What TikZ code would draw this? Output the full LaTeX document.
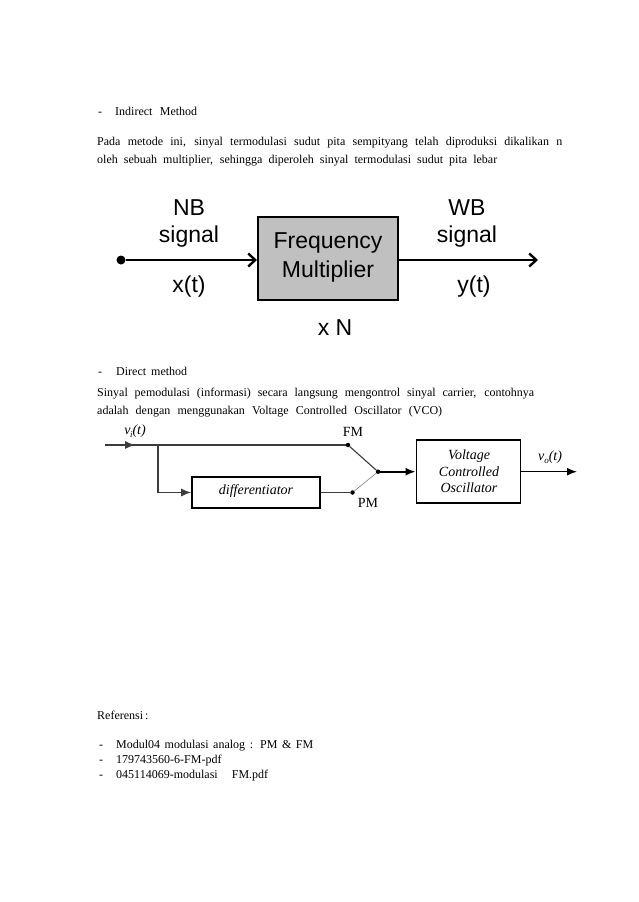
\documentclass[tikz,border=0pt]{standalone}
\usepackage{fontspec}
\setmainfont{Liberation Serif}
\newfontfamily\arialf{Liberation Sans}
\usetikzlibrary{arrows.meta}
\definecolor{boxgray}{RGB}{192,192,192}
\definecolor{wire}{RGB}{60,60,60}
\tikzset{
  body/.style={anchor=base west, inner sep=0pt, font=\fontsize{12}{14}\selectfont},
  bigsans/.style={inner sep=0pt, font=\arialf\fontsize{23}{26}\selectfont},
  thickwire/.style={line width=2.4pt, draw=black},
  barb/.style={-{Straight Barb[length=7pt,width=13pt]}},
  thinwire/.style={line width=1.1pt, draw=wire},
  tri/.style={-{Latex[length=10pt,width=8pt]}},
  blockbox/.style={draw=black, line width=1.8pt, fill=white},
  ser/.style={inner sep=0pt, font=\fontsize{14}{16.5}\selectfont},
  sw/.style={circle, fill=black, inner sep=0pt, minimum size=4.5pt}
}
\begin{document}
\begin{tikzpicture}[x=1pt,y=-1pt]
\useasboundingbox[fill=white] (0,0) rectangle (638,902);

% ---------- text: indirect method ----------
\node[body] (d1) at (98,115) {-};
\node[body] (t1) at (115,115) {\makebox[82pt][s]{Indirect Method}};
\node[body] (p1a) at (97,145.5) {\makebox[465pt][s]{Pada metode ini, sinyal termodulasi sudut pita sempityang telah diproduksi dikalikan n}};
\node[body] (p1b) at (97,163) {\makebox[400pt][s]{oleh sebuah multiplier, sehingga diperoleh sinyal termodulasi sudut pita lebar}};

% ---------- diagram 1 ----------
\node[circle, fill=black, inner sep=0pt, minimum size=9pt] (dot) at (121,260) {};
\node[draw=black, line width=2pt, fill=boxgray, minimum width=140pt, minimum height=83pt, inner sep=0pt] (fmul) at (328,258.5) {};
\node[bigsans] (freq) at (328,243) {Frequency};
\node[bigsans] (mult) at (328,272) {Multiplier};
\coordinate (outend) at (538,260);
\draw[thickwire, barb] (dot) -- (fmul.west |- dot);
\draw[thickwire, barb] (fmul.east |- dot) -- (outend);
\node[bigsans] (nb) at (189,208) {NB};
\node[bigsans] (nbs) at (189,237) {signal};
\node[bigsans] (xt) at (189,287) {x(t)};
\node[bigsans] (wb) at (467,208) {WB};
\node[bigsans] (wbs) at (467,237) {signal};
\node[bigsans] (yt) at (474,287) {y(t)};
\node[bigsans] (xn) at (335,328) {x N};

% ---------- text: direct method ----------
\node[body] (d2) at (98,375) {-};
\node[body] (t2) at (116,375) {\makebox[71pt][s]{Direct method}};
\node[body] (p2a) at (97,396) {\makebox[437pt][s]{Sinyal pemodulasi (informasi) secara langsung mengontrol sinyal carrier, contohnya}};
\node[body] (p2b) at (97,414) {\makebox[345pt][s]{adalah dengan menggunakan Voltage Controlled Oscillator (VCO)}};

% ---------- diagram 2 ----------
\coordinate (vin) at (105,445);
\coordinate (vmid) at (135,445);
\coordinate (br) at (158,445);
\coordinate (brd) at (158,492.5);
\node[sw] (fm) at (348,445) {};
\node[sw] (pm) at (352.5,492.5) {};
\node[sw] (pv) at (378,471.7) {};
\node[blockbox, minimum width=128pt, minimum height=31pt, inner sep=0pt] (diff) at (256,492.5) {};
\node[ser] (difft) at (256,491.5) {\itshape differentiator};
\node[blockbox, minimum width=104pt, minimum height=62.5pt, inner sep=0pt] (vco) at (468.5,471.5) {};
\node[ser, align=center] (vcot) at (469,471.5) {\itshape Voltage\\\itshape Controlled\\\itshape Oscillator};
\coordinate (vout) at (577,471.7);

\draw[thinwire] (vin) -- (fm);
\draw[thinwire, tri] (vin) -- (vmid);
\draw[thinwire] (br) -- (brd);
\draw[thinwire, tri] (brd) -- (diff.west |- brd);
\draw[thinwire] (diff.east |- pm) -- (pm);
\draw[line width=1.1pt, draw=wire] (fm) -- (pv);
\draw[line width=0.6pt, draw=gray] (pm) -- (pv);
\draw[line width=1.8pt, tri] (pv) -- (vco.west |- pv);
\draw[line width=1.5pt, tri] (vco.east |- pv) -- (vout);

\node[ser] (fml) at (353,432) {FM};
\node[ser] (pml) at (368,503) {PM};
\node[ser] (vil) at (135,431) {\itshape v\kern-0.5pt\raisebox{-0.25em}{\fontsize{9}{10}\selectfont i}(t)};
\node[ser] (vol) at (550,457) {\itshape v\raisebox{-0.25em}{\fontsize{9}{10}\selectfont o}(t)};

% ---------- references ----------
\node[body] (ref) at (97,719) {\makebox[46pt][s]{Referensi :}};
\node[body] (d3) at (99,748) {-};
\node[body] (r1) at (116,748) {\makebox[197pt][s]{Modul04 modulasi analog : PM \& FM}};
\node[body] (d4) at (99,763) {-};
\node[body] (r2) at (116,763) {179743560-6-FM-pdf};
\node[body] (d5) at (99,778) {-};
\node[body] (r3) at (116,778) {\makebox[152pt][s]{045114069-modulasi FM.pdf}};
\end{tikzpicture}
\end{document}
